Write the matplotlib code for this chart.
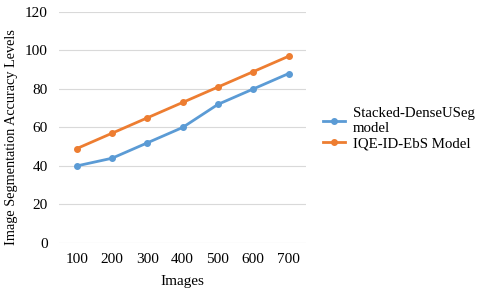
import matplotlib.pyplot as plt

images = [100, 200, 300, 400, 500, 600, 700]
stacked = [40, 44, 52, 60, 72, 80, 88]
iqe = [49, 57, 65, 73, 81, 89, 97]

plt.rcParams['font.family'] = ['Liberation Serif', 'DejaVu Serif']

fig = plt.figure(figsize=(4.8, 2.93), dpi=100)
ax = fig.add_axes([0.123, 0.171, 0.515, 0.788])

x = range(len(images))
ax.plot(x, stacked, color='#5B9BD5', lw=2, marker='o', ms=4, label='Stacked-DenseUSeg\nmodel')
ax.plot(x, iqe, color='#ED7D31', lw=2, marker='o', ms=4, label='IQE-ID-EbS Model')

ax.set_xlim(-0.5, 6.5)
ax.set_ylim(0, 120)
ax.set_yticks(range(0, 121, 20))
ax.set_xticks(list(x))
ax.set_xticklabels([str(i) for i in images])
ax.tick_params(length=0, labelsize=11, colors='black')
ax.tick_params(axis='x', pad=7)
ax.tick_params(axis='y', pad=8)
ax.grid(axis='y', color='#D9D9D9', lw=0.8)
ax.set_axisbelow(True)
for s in ax.spines.values():
    s.set_visible(False)

ax.set_xlabel('Images', fontsize=11, labelpad=7)
ax.set_ylabel('Image Segmentation Accuracy Levels', fontsize=10.3)
ax.yaxis.set_label_coords(-0.165, 0.46)

fig.legend(loc='upper left', bbox_to_anchor=(0.645, 0.68), frameon=False,
           fontsize=10.7, handlelength=1.5, handletextpad=0.5, labelspacing=0.1)

fig.savefig('out.png', dpi=100)
